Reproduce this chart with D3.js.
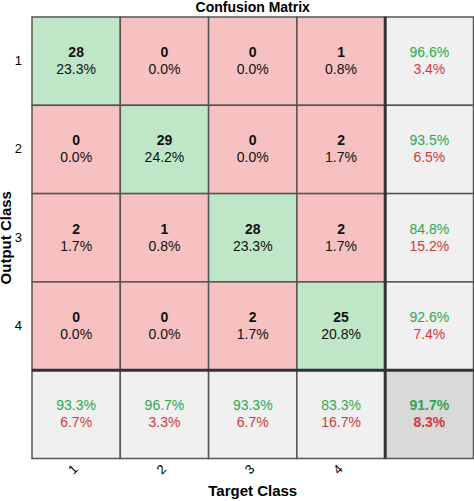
<!DOCTYPE html>
<html><head><meta charset="utf-8">
<script src="https://cdn.jsdelivr.net/npm/d3@7"></script>
<style>body{margin:0;background:#fff}svg{font-family:Arial,"Liberation Sans",sans-serif}</style>
</head><body><div id="chart"></div>
<script>
"use strict";
const classes = ["1", "2", "3", "4"];
// rows = output class, cols = target class
const counts = [
    [28, 0, 0, 1],
    [0, 29, 0, 2],
    [2, 1, 28, 2],
    [0, 0, 2, 25]
];
const total = 120;

(function () {
    const width = 474, height = 501;
    const left = 32, top = 17, cell = 88.3;
    const n = classes.length;
    const svg = d3.select("#chart").append("svg").attr("width", width).attr("height", height);

    const x = d3.scaleBand().domain(d3.range(n + 1)).range([left, left + cell * (n + 1)]);
    const y = d3.scaleBand().domain(d3.range(n + 1)).range([top, top + cell * (n + 1)]);
    const fmt = v => (v * 100).toFixed(1) + "%";
    const green = "#2ca94f", red = "#d03a3a";

    const cells = [];
    for (let r = 0; r < n; r++) {
        for (let c = 0; c < n; c++) {
            cells.push({r, c, top: String(counts[r][c]), bot: fmt(counts[r][c] / total),
                fill: r === c ? "#bfe6c6" : "#f6c1c0", kind: "main"});
        }
        const rs = d3.sum(counts[r]);
        cells.push({r, c: n, top: fmt(counts[r][r] / rs), bot: fmt(1 - counts[r][r] / rs), fill: "#f0f0f0", kind: "side"});
    }
    for (let c = 0; c < n; c++) {
        const cs = d3.sum(counts, row => row[c]);
        cells.push({r: n, c, top: fmt(counts[c][c] / cs), bot: fmt(1 - counts[c][c] / cs), fill: "#f0f0f0", kind: "side"});
    }
    const diag = d3.sum(classes, (d, i) => counts[i][i]);
    cells.push({r: n, c: n, top: fmt(diag / total), bot: fmt(1 - diag / total), fill: "#d9d9d9", kind: "total"});

    const g = svg.selectAll("g.cell").data(cells).enter().append("g").attr("class", "cell")
        .attr("transform", d => `translate(${x(d.c)},${y(d.r)})`);
    g.append("rect").attr("width", x.bandwidth()).attr("height", y.bandwidth())
        .attr("fill", d => d.fill).attr("stroke", "#555").attr("stroke-width", 1.5);
    g.append("text").attr("x", x.bandwidth() / 2).attr("y", y.bandwidth() / 2 - 4)
        .attr("text-anchor", "middle").attr("font-size", 14)
        .attr("font-weight", d => d.kind === "side" ? "normal" : "bold")
        .attr("fill", d => d.kind === "main" ? "#111" : green).text(d => d.top);
    g.append("text").attr("x", x.bandwidth() / 2).attr("y", y.bandwidth() / 2 + 13)
        .attr("text-anchor", "middle").attr("font-size", 14)
        .attr("font-weight", d => d.kind === "total" ? "bold" : "normal")
        .attr("fill", d => d.kind === "main" ? "#111" : red).text(d => d.bot);

    // thick separators
    const sx = x(n), sy = y(n), ex = left + cell * (n + 1), ey = top + cell * (n + 1);
    svg.append("line").attr("x1", sx).attr("x2", sx).attr("y1", top).attr("y2", ey).attr("stroke", "#333").attr("stroke-width", 3);
    svg.append("line").attr("x1", left).attr("x2", ex).attr("y1", sy).attr("y2", sy).attr("stroke", "#333").attr("stroke-width", 3);

    svg.selectAll("text.ylab").data(classes).enter().append("text").attr("class", "ylab")
        .attr("x", left - 10).attr("y", (d, i) => y(i) + y.bandwidth() / 2 + 4)
        .attr("text-anchor", "end").attr("font-size", 13).text(d => d);
    svg.selectAll("text.xlab").data(classes).enter().append("text").attr("class", "xlab")
        .attr("transform", (d, i) => `translate(${x(i) + x.bandwidth() / 2},${ey + 14}) rotate(-45)`)
        .attr("text-anchor", "middle").attr("font-size", 13).text(d => d);

    svg.append("text").attr("x", left + cell * 2.5).attr("y", 12).attr("text-anchor", "middle")
        .attr("font-size", 14).attr("font-weight", "bold").text("Confusion Matrix");
    svg.append("text").attr("x", left + cell * 2.5).attr("y", 496).attr("text-anchor", "middle")
        .attr("font-size", 15).attr("font-weight", "bold").text("Target Class");
    svg.append("text").attr("transform", `translate(11,${top + cell * 2.5}) rotate(-90)`)
        .attr("text-anchor", "middle").attr("font-size", 15).attr("font-weight", "bold").text("Output Class");
})();
</script></body></html>
